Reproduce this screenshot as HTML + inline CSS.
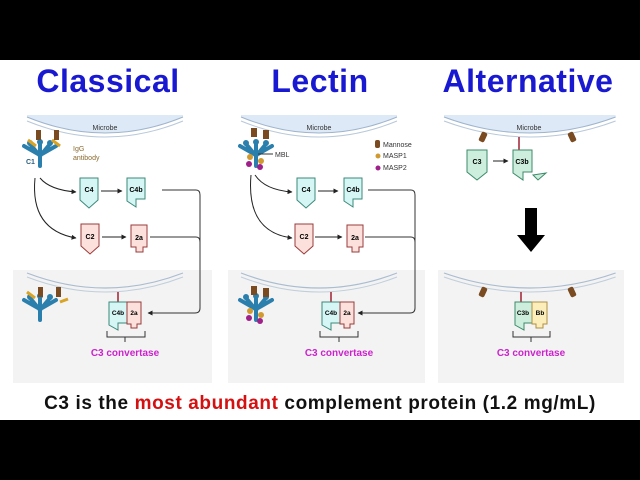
<!DOCTYPE html>
<html><head><meta charset="utf-8"><style>
html,body{margin:0;padding:0;background:#000;}
svg{display:block;font-family:"Liberation Sans",sans-serif;}
</style></head><body>
<svg width="640" height="480" viewBox="0 0 640 480" xmlns="http://www.w3.org/2000/svg">
<defs>
<marker id="ar" viewBox="0 0 10 10" refX="9" refY="5" markerWidth="5" markerHeight="5" orient="auto"><path d="M0,0 L10,5 L0,10 z" fill="#222"/></marker>
<g id="pent"><path d="M0,0 H18 V22 L9,30 L0,22 Z"/></g>
<g id="notch"><path d="M0,0 H18 V21 H9 V29 L0,23 Z"/></g>
<g id="small"><path d="M0,0 H16 V22 H12 V27 H5 V22 H0 Z"/></g>
<g id="mic">
<path d="M0,0 Q78,32 156,0 L156,-2 L0,-2 Z" fill="#dde9f7"/>
<path d="M0,0 Q78,32 156,0" fill="none" stroke="#9fb4cc" stroke-width="1"/>
<path d="M0,4 Q78,36 156,4" fill="none" stroke="#b8c8da" stroke-width="1"/>
</g>
<g id="lowmic">
<path d="M0,0 Q78,30 156,0" fill="none" stroke="#aabcd0" stroke-width="1.2"/>
<path d="M0,4 Q78,34 156,4" fill="none" stroke="#c0cedc" stroke-width="1"/>
</g>
<g id="c1">
<path d="M0,0 V-22 M0,-10 L-10,-22 M0,-10 L10,-22 M-2,-12 L-16,-20 M2,-12 L16,-20" stroke="#2b7fad" stroke-width="4" stroke-linecap="round"/>
<circle cx="-10" cy="-23" r="3" fill="#2b7fad"/><circle cx="10" cy="-23" r="3" fill="#2b7fad"/><circle cx="0" cy="-24" r="3" fill="#2b7fad"/>
</g>
</defs>
<rect x="0" y="60" width="640" height="360" fill="#fff"/>
<text x="108" y="92" font-size="32" font-weight="bold" fill="#1919d2" text-anchor="middle" letter-spacing="0.5">Classical</text>
<text x="320" y="92" font-size="32" font-weight="bold" fill="#1919d2" text-anchor="middle" letter-spacing="0.5">Lectin</text>
<text x="528" y="92" font-size="32" font-weight="bold" fill="#1919d2" text-anchor="middle" letter-spacing="0.5">Alternative</text>

<rect x="13" y="270" width="199" height="113" fill="#f3f3f3"/>
<rect x="228" y="270" width="197" height="113" fill="#f3f3f3"/>
<rect x="438" y="270" width="186" height="113" fill="#f3f3f3"/>

<!-- Classical -->
<use href="#mic" x="27" y="117"/>
<text x="105" y="130" font-size="7" fill="#333" text-anchor="middle">Microbe</text>
<g transform="translate(40,166)"><use href="#c1"/></g>
<path d="M28,140 l8,6 M52,140 l8,6" stroke="#d9a326" stroke-width="3"/>
<rect x="36" y="130" width="5" height="10" fill="#7a4a20"/><rect x="54" y="130" width="5" height="10" fill="#7a4a20"/>
<text x="26" y="164" font-size="7" font-weight="bold" fill="#2b5f80">C1</text>
<text x="73" y="151" font-size="7" fill="#8a6a30">IgG</text>
<text x="73" y="160" font-size="7" fill="#8a6a30">antibody</text>
<path d="M40,178 Q50,190 76,192" fill="none" stroke="#222" stroke-width="1" marker-end="url(#ar)"/>
<path d="M35,178 Q30,230 76,238" fill="none" stroke="#222" stroke-width="1" marker-end="url(#ar)"/>
<g fill="#d6f6f6" stroke="#3b8a7a" stroke-width="1"><use href="#pent" x="80" y="178"/><use href="#notch" x="127" y="178"/></g>
<g fill="#fbe0dc" stroke="#9a3b3b" stroke-width="1"><use href="#pent" x="81" y="224"/><use href="#small" x="131" y="225"/></g>
<text x="89" y="192" font-size="7" font-weight="bold" text-anchor="middle">C4</text>
<text x="136" y="192" font-size="7" font-weight="bold" text-anchor="middle">C4b</text>
<text x="90" y="239" font-size="7" font-weight="bold" text-anchor="middle">C2</text>
<text x="139" y="240" font-size="7" font-weight="bold" text-anchor="middle">2a</text>
<path d="M101,191 H122" stroke="#222" marker-end="url(#ar)"/>
<path d="M102,237 H126" stroke="#222" marker-end="url(#ar)"/>
<path d="M162,190 H196 Q200,190 200,195 V308 Q200,313 195,313 H148" fill="none" stroke="#333" marker-end="url(#ar)"/>
<path d="M150,237 H196 Q200,237 200,242" fill="none" stroke="#333"/>
<use href="#lowmic" x="27" y="273"/>
<line x1="118" y1="292" x2="118" y2="302" stroke="#a02030" stroke-width="1.5"/>
<g stroke-width="1"><path d="M109,302 H127 V323 H118 V330 L109,325 Z" fill="#d6f6f6" stroke="#3b8a7a"/><path d="M127,302 H141 V324 H137 V328 H131 V324 H127 Z" fill="#fbe0dc" stroke="#9a3b3b"/></g>
<text x="118" y="315" font-size="6.5" font-weight="bold" text-anchor="middle">C4b</text>
<text x="134" y="315" font-size="6.5" font-weight="bold" text-anchor="middle">2a</text>
<path d="M107,331 V337 H145 V331 M125,337 V342" fill="none" stroke="#333"/>
<text x="125" y="356" font-size="10" font-weight="bold" fill="#cc22cc" text-anchor="middle">C3 convertase</text>
<g transform="translate(40,320)"><use href="#c1"/></g>
<rect x="38" y="287" width="5" height="10" fill="#7a4a20"/><rect x="56" y="287" width="5" height="10" fill="#7a4a20"/>
<path d="M27,292 l8,6 M60,302 l8,-3" stroke="#d9a326" stroke-width="3"/>

<!-- Lectin -->
<use href="#mic" x="241" y="117"/>
<text x="319" y="130" font-size="7" fill="#333" text-anchor="middle">Microbe</text>
<g transform="translate(256,166)"><use href="#c1"/></g>
<rect x="251" y="128" width="6" height="9" fill="#7a4a20"/><rect x="263" y="130" width="6" height="9" fill="#7a4a20"/>
<circle cx="250" cy="157" r="3" fill="#d09a30"/><circle cx="261" cy="161" r="3" fill="#d09a30"/><circle cx="249" cy="164" r="3" fill="#a0208a"/><circle cx="260" cy="167" r="3" fill="#a0208a"/>
<line x1="258" y1="154" x2="273" y2="154" stroke="#333"/>
<text x="275" y="157" font-size="7" fill="#333">MBL</text>
<rect x="375" y="140" width="5" height="8" rx="2" fill="#7a4a20"/><text x="383" y="147" font-size="7" fill="#333">Mannose</text>
<circle cx="378" cy="156" r="2.5" fill="#d09a30"/><text x="383" y="158" font-size="7" fill="#333">MASP1</text>
<circle cx="378" cy="168" r="2.5" fill="#a0208a"/><text x="383" y="170" font-size="7" fill="#333">MASP2</text>
<path d="M255,175 Q265,190 292,192" fill="none" stroke="#222" marker-end="url(#ar)"/>
<path d="M251,175 Q246,232 292,238" fill="none" stroke="#222" marker-end="url(#ar)"/>
<g fill="#d6f6f6" stroke="#3b8a7a"><use href="#pent" x="297" y="178"/><use href="#notch" x="344" y="178"/></g>
<g fill="#fbe0dc" stroke="#9a3b3b"><use href="#pent" x="295" y="224"/><use href="#small" x="347" y="225"/></g>
<text x="306" y="192" font-size="7" font-weight="bold" text-anchor="middle">C4</text>
<text x="353" y="192" font-size="7" font-weight="bold" text-anchor="middle">C4b</text>
<text x="304" y="239" font-size="7" font-weight="bold" text-anchor="middle">C2</text>
<text x="355" y="240" font-size="7" font-weight="bold" text-anchor="middle">2a</text>
<path d="M318,191 H338" stroke="#222" marker-end="url(#ar)"/>
<path d="M315,237 H342" stroke="#222" marker-end="url(#ar)"/>
<path d="M368,190 H411 Q415,190 415,195 V308 Q415,313 410,313 H358" fill="none" stroke="#333" marker-end="url(#ar)"/>
<path d="M365,237 H411 Q415,237 415,242" fill="none" stroke="#333"/>
<use href="#lowmic" x="241" y="273"/>
<line x1="331" y1="292" x2="331" y2="302" stroke="#a02030" stroke-width="1.5"/>
<g><path d="M322,302 H340 V323 H331 V330 L322,325 Z" fill="#d6f6f6" stroke="#3b8a7a"/><path d="M340,302 H354 V324 H350 V328 H344 V324 H340 Z" fill="#fbe0dc" stroke="#9a3b3b"/></g>
<text x="331" y="315" font-size="6.5" font-weight="bold" text-anchor="middle">C4b</text>
<text x="347" y="315" font-size="6.5" font-weight="bold" text-anchor="middle">2a</text>
<path d="M320,331 V337 H358 V331 M339,337 V342" fill="none" stroke="#333"/>
<text x="339" y="356" font-size="10" font-weight="bold" fill="#cc22cc" text-anchor="middle">C3 convertase</text>
<g transform="translate(256,320)"><use href="#c1"/></g>
<rect x="251" y="286" width="6" height="9" fill="#7a4a20"/><rect x="263" y="288" width="6" height="9" fill="#7a4a20"/>
<circle cx="250" cy="311" r="3" fill="#d09a30"/><circle cx="261" cy="315" r="3" fill="#d09a30"/><circle cx="249" cy="318" r="3" fill="#a0208a"/><circle cx="260" cy="321" r="3" fill="#a0208a"/>

<!-- Alternative -->
<g transform="translate(444,117) scale(1.1,1)"><use href="#mic"/></g>
<text x="529" y="130" font-size="7" fill="#333" text-anchor="middle">Microbe</text>
<rect x="480" y="132" width="6" height="10" rx="2" fill="#7a4a20" transform="rotate(25 483 137)"/>
<rect x="569" y="132" width="6" height="10" rx="2" fill="#7a4a20" transform="rotate(-25 572 137)"/>
<line x1="519" y1="137" x2="519" y2="150" stroke="#a02030" stroke-width="1.5"/>
<path d="M467,150 H487 V172 L477,180 L467,172 Z" fill="#cdeedd" stroke="#3b8a6a"/>
<path d="M513,150 H532 V172 H523 V180 L513,173 Z" fill="#cdeedd" stroke="#3b8a6a"/>
<path d="M533,175 L546,173 L538,180 Z" fill="#cdeedd" stroke="#3b8a6a"/>
<text x="477" y="164" font-size="7" font-weight="bold" text-anchor="middle">C3</text>
<text x="522" y="164" font-size="7" font-weight="bold" text-anchor="middle">C3b</text>
<path d="M493,161 H508" stroke="#222" marker-end="url(#ar)"/>
<path d="M525,208 H537 V235 H545 L531,252 L517,235 H525 Z" fill="#000"/>
<g transform="translate(444,273) scale(1.1,1)"><use href="#lowmic"/></g>
<rect x="480" y="287" width="6" height="10" rx="2" fill="#7a4a20" transform="rotate(25 483 292)"/>
<rect x="569" y="287" width="6" height="10" rx="2" fill="#7a4a20" transform="rotate(-25 572 292)"/>
<line x1="521" y1="292" x2="521" y2="302" stroke="#a02030" stroke-width="1.5"/>
<path d="M515,302 H532 V323 H524 V330 L515,325 Z" fill="#cdeedd" stroke="#3b8a6a"/>
<path d="M532,302 H547 V324 H543 V328 H536 V324 H532 Z" fill="#fbeebb" stroke="#b09040"/>
<text x="523" y="315" font-size="6.5" font-weight="bold" text-anchor="middle">C3b</text>
<text x="540" y="315" font-size="6.5" font-weight="bold" text-anchor="middle">Bb</text>
<path d="M513,331 V337 H550 V331 M531,337 V342" fill="none" stroke="#333"/>
<text x="531" y="356" font-size="10" font-weight="bold" fill="#cc22cc" text-anchor="middle">C3 convertase</text>

<text x="320" y="409" font-size="19" font-weight="bold" fill="#111" text-anchor="middle" letter-spacing="0.6">C3 is the <tspan fill="#d41010">most abundant</tspan> complement protein (1.2 mg/mL)</text>
</svg>
</body></html>
